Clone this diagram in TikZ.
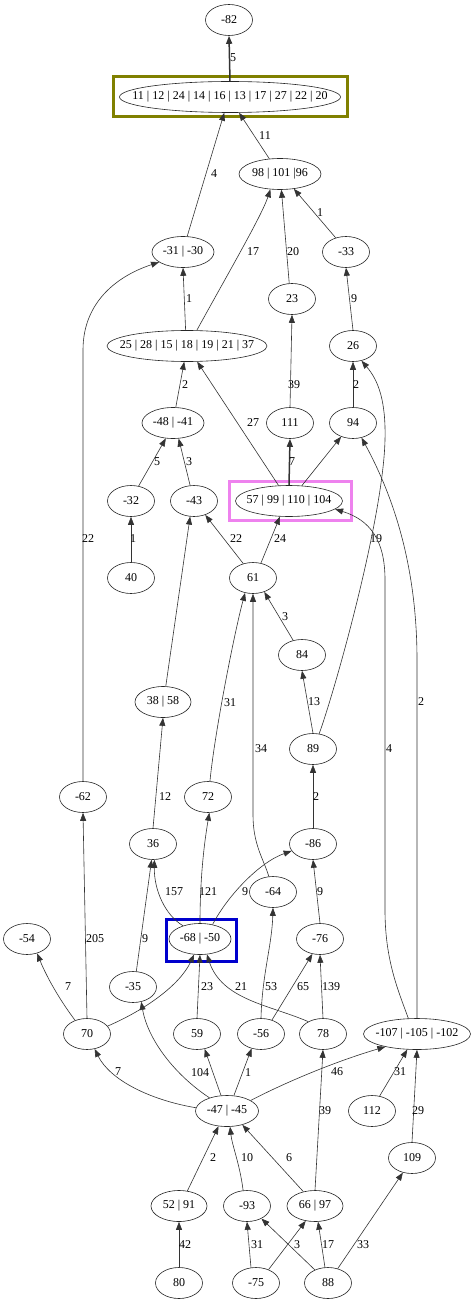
\documentclass[tikz,border=0pt]{standalone}
\usepackage{fontspec}
\setmainfont{Liberation Serif}
\usetikzlibrary{shapes.geometric,arrows.meta}
\newcommand{\nt}[1]{\makebox[0pt]{#1}}
\definecolor{boxolive}{RGB}{128,128,0}
\definecolor{boxpink}{RGB}{238,130,238}
\definecolor{boxblue}{RGB}{0,0,205}
\begin{document}
\begin{tikzpicture}[x=1bp,y=-1bp,
  nd/.style={ellipse,draw=black!85,line width=0.6bp,inner sep=0pt,minimum height=31bp,minimum width=#1,font=\fontsize{12bp}{14bp}\selectfont},
  nd/.default=47bp,
  e/.style={draw=black!80,line width=0.6bp,-{Triangle[length=8bp,width=6bp]}},
  eb/.style={e,line width=1.5bp},
  lab/.style={inner sep=0pt,font=\fontsize{12bp}{14bp}\selectfont},
  cbox/.style={line width=3bp}]
\fill[white] (0,0) rectangle (474,1302);
\useasboundingbox (0,0) rectangle (474,1302);
% cluster boxes
\draw[cbox,draw=boxolive] (113,77) rectangle (347,117);
\draw[cbox,draw=boxpink] (229,481) rectangle (351,520);
\draw[cbox,draw=boxblue] (166,919) rectangle (236,961);
% nodes
\node[nd] (m82) at (229,20) {\nt{-82}};
\node[nd=221bp] (big) at (230,97) {\nt{11 | 12 | 24 | 14 | 16 | 13 | 17 | 27 | 22 | 20}};
\node[nd=82bp] (n98) at (280,174) {\nt{98 | 101 |96}};
\node[nd=62bp] (m31) at (183,252) {\nt{-31 | -30}};
\node[nd] (m33) at (346,252) {\nt{-33}};
\node[nd] (n23) at (292,299) {\nt{23}};
\node[nd=160bp] (n25) at (187,346) {\nt{25 | 28 | 15 | 18 | 19 | 21 | 37}};
\node[nd] (n26) at (353,346) {\nt{26}};
\node[nd=62bp] (m48) at (173,423) {\nt{-48 | -41}};
\node[nd] (n111) at (290,423) {\nt{111}};
\node[nd] (n94) at (353,423) {\nt{94}};
\node[nd] (m32) at (131,501) {\nt{-32}};
\node[nd] (m43) at (194,501) {\nt{-43}};
\node[nd=107bp] (n57) at (289,501) {\nt{57 | 99 | 110 | 104}};
\node[nd] (n40) at (131,578) {\nt{40}};
\node[nd] (n61) at (253,578) {\nt{61}};
\node[nd] (n84) at (302,655) {\nt{84}};
\node[nd=56bp] (n38) at (163,702) {\nt{38 | 58}};
\node[nd] (n89) at (313,749) {\nt{89}};
\node[nd] (m62) at (83,797) {\nt{-62}};
\node[nd] (n72) at (208,797) {\nt{72}};
\node[nd] (n36) at (153,844) {\nt{36}};
\node[nd] (m86) at (313,844) {\nt{-86}};
\node[nd] (m64) at (273,892) {\nt{-64}};
\node[nd] (m54) at (27,939) {\nt{-54}};
\node[nd=62bp] (m68) at (200,939) {\nt{-68 | -50}};
\node[nd] (m76) at (320,939) {\nt{-76}};
\node[nd] (m35) at (133,987) {\nt{-35}};
\node[nd] (n70) at (87,1034) {\nt{70}};
\node[nd] (n59) at (197,1034) {\nt{59}};
\node[nd] (m56) at (261,1034) {\nt{-56}};
\node[nd] (n78) at (323,1034) {\nt{78}};
\node[nd=107bp] (m107) at (417,1034) {\nt{-107 | -105 | -102}};
\node[nd=63bp] (m47) at (227,1111) {\nt{-47 | -45}};
\node[nd] (n112) at (372,1111) {\nt{112}};
\node[nd] (n109) at (412,1158) {\nt{109}};
\node[nd=56bp] (n52) at (179,1206) {\nt{52 | 91}};
\node[nd] (m93) at (247,1206) {\nt{-93}};
\node[nd=56bp] (n66) at (315,1206) {\nt{66 | 97}};
\node[nd] (n80) at (179,1283) {\nt{80}};
\node[nd] (m75) at (256,1283) {\nt{-75}};
\node[nd] (n88) at (328,1283) {\nt{88}};
% edges
\draw[eb] (big.north) -- (m82.south) node[lab,at={(233,58)}] {5};
\draw[e] (m31.75) -- (big.250) node[lab,at={(214,174)}] {4};
\draw[e] (n98.125) -- (big.300) node[lab,at={(265,136)}] {11};
\draw[e] (n25.58) .. controls (230,270) and (262,215) .. (n98.238) node[lab,at={(253,252)}] {17};
\draw[e] (n23.100) -- (n98.275) node[lab,at={(293,252)}] {20};
\draw[e] (m33.126) -- (n98.313) node[lab,at={(320,213)}] {1};
\draw[e] (n25.95) -- (m31.south) node[lab,at={(189,299)}] {1};
\draw[e] (m62.north) -- (83,350) .. controls (83,300) and (120,275) .. (m31.203) node[lab,at={(88,539)}] {22};
\draw[e] (n111.north) -- (n23.south) node[lab,at={(294,385)}] {39};
\draw[e] (n26.north) -- (m33.south) node[lab,at={(354,299)}] {9};
\draw[e] (m48.80) -- (n25.260) node[lab,at={(185,385)}] {2};
\draw[e] (n57.124) -- (n25.303) node[lab,at={(253,423)}] {27};
\draw[e] (n94.north) -- (n26.south) node[lab,at={(356,385)}] {2};
\draw[e] (n89.68) .. controls (335,690) and (383,520) .. (385,440) .. controls (386,400) and (378,380) .. (n26.300) node[lab,at={(376,539)}] {19};
\draw[e] (m32.63) -- (m48.245) node[lab,at={(157,462)}] {5};
\draw[e] (m43.104) -- (m48.290) node[lab,at={(189,462)}] {3};
\draw[eb] (n57.north) -- (n111.south) node[lab,at={(292,462)}] {7};
\draw[e] (n57.50) -- (n94.229);
\draw[e] (m107.119) .. controls (398,990) and (385,960) .. (385,910) -- (385,580) .. controls (385,540) and (370,520) .. (n57.350) node[lab,at={(389,749)}] {4};
\draw[e] (m107.north) -- (417,660) .. controls (417,560) and (390,490) .. (n94.300) node[lab,at={(421,702)}] {2};
\draw[e] (n61.124) -- (m43.309) node[lab,at={(236,539)}] {22};
\draw[e] (n61.62) -- (n57.240) node[lab,at={(280,539)}] {24};
\draw[e] (n38.80) -- (m43.256);
\draw[e] (n84.121) -- (n61.309) node[lab,at={(285,617)}] {3};
\draw[e] (n72.83) .. controls (215,730) and (235,630) .. (n61.242) node[lab,at={(230,703)}] {31};
\draw[e] (m64.105) .. controls (264,860) and (253,845) .. (253,815) -- (n61.south) node[lab,at={(261,749)}] {34};
\draw[e] (n89.north) -- (n84.south) node[lab,at={(314,702)}] {13};
\draw[e] (n36.north) -- (n38.south) node[lab,at={(165,797)}] {12};
\draw[e] (m86.north) -- (n89.south) node[lab,at={(316,797)}] {2};
\draw[e] (n70.north) -- (m62.south) node[lab,at={(95,939)}] {205};
\draw[e] (m68.142) .. controls (165,915) and (154,890) .. (n36.275) node[lab,at={(174,892)}] {157};
\draw[e] (m35.78) -- (n36.265) node[lab,at={(145,939)}] {9};
\draw[e] (m68.north) .. controls (200,885) and (203,850) .. (n72.275) node[lab,at={(208,892)}] {121};
\draw[e] (m68.49) .. controls (228,895) and (260,862) .. (m86.198) node[lab,at={(245,892)}] {9};
\draw[e] (m56.north) .. controls (262,975) and (272,945) .. (m64.south) node[lab,at={(271,987)}] {53};
\draw[e] (m76.north) -- (m86.south) node[lab,at={(320,892)}] {9};
\draw[e] (n70.131) .. controls (62,1003) and (48,980) .. (m54.305) node[lab,at={(68,987)}] {7};
\draw[e] (n70.21) .. controls (145,1010) and (180,985) .. (m68.249);
\draw[e] (n59.north) -- (m68.south) node[lab,at={(207,987)}] {23};
\draw[e] (n78.140) .. controls (270,1005) and (222,1000) .. (m68.294) node[lab,at={(241,987)}] {21};
\draw[e] (m56.52) -- (m76.243) node[lab,at={(303,987)}] {65};
\draw[e] (n78.north) -- (m76.south) node[lab,at={(331,987)}] {139};
\draw[e] (m47.174) .. controls (150,1100) and (110,1080) .. (n70.297) node[lab,at={(118,1072)}] {7};
\draw[e] (m47.143) .. controls (175,1075) and (148,1040) .. (m35.299);
\draw[e] (m47.111) -- (n59.297) node[lab,at={(200,1073)}] {104};
\draw[e] (m47.66) -- (m56.237) node[lab,at={(248,1073)}] {1};
\draw[e] (m47.24) .. controls (290,1080) and (340,1060) .. (m107.202) node[lab,at={(337,1072)}] {46};
\draw[e] (n112.63) -- (m107.238) node[lab,at={(400,1072)}] {31};
\draw[e] (n109.north) -- (m107.south) node[lab,at={(418,1111)}] {29};
\draw[e] (n66.north) -- (n78.south) node[lab,at={(325,1111)}] {39};
\draw[e] (n52.61) -- (m47.241) node[lab,at={(213,1158)}] {2};
\draw[e] (m93.104) .. controls (240,1165) and (232,1145) .. (m47.281) node[lab,at={(247,1158)}] {10};
\draw[e] (n66.129) -- (m47.318) node[lab,at={(289,1158)}] {6};
\draw[e] (n88.56) -- (n109.238) node[lab,at={(363,1245)}] {33};
\draw[e] (n80.north) -- (n52.south) node[lab,at={(185,1245)}] {42};
\draw[e] (m75.108) -- (m93.south) node[lab,at={(257,1245)}] {31};
\draw[e] (m75.47) -- (n66.238) node[lab,at={(297,1245)}] {3};
\draw[e] (n88.135) -- (m93.319);
\draw[e] (n88.101) -- (n66.281) node[lab,at={(328,1245)}] {17};
\draw[e] (n40.north) -- (m32.south) node[lab,at={(133,539)}] {1};
\end{tikzpicture}
\end{document}
